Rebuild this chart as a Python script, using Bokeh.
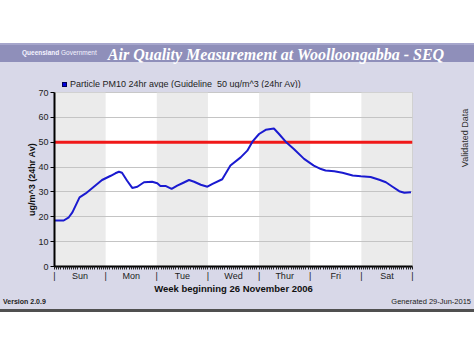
from bokeh.plotting import figure
from bokeh.models import Range1d, FixedTicker, Div
from bokeh.layouts import column, row
from bokeh.embed import file_html
from bokeh.resources import INLINE

# ---------------- data ----------------
day_names = ["Sun", "Mon", "Tue", "Wed", "Thur", "Fri", "Sat"]
t_days = [0.0, 0.18, 0.28, 0.35, 0.49, 0.61, 0.77, 0.93, 1.10, 1.19, 1.26, 1.32,
          1.42, 1.52, 1.62, 1.75, 1.91, 2.01, 2.07, 2.17, 2.29, 2.40, 2.52, 2.63,
          2.73, 2.86, 2.99, 3.09, 3.28, 3.44, 3.64, 3.77, 3.87, 4.00, 4.13, 4.29,
          4.39, 4.52, 4.68, 4.88, 5.07, 5.21, 5.30, 5.47, 5.63, 5.83, 5.99, 6.18,
          6.35, 6.48, 6.61, 6.74, 6.84, 6.97]
pm10 = [18.5, 18.5, 19.8, 21.8, 27.8, 29.4, 32.1, 34.8, 36.5, 37.5, 38.1, 37.7,
        34.5, 31.6, 32.1, 33.9, 34.1, 33.5, 32.4, 32.4, 31.2, 32.5, 33.7, 34.8,
        34.1, 32.9, 32.1, 33.2, 35.1, 40.6, 43.9, 46.6, 50.2, 53.3, 55.0, 55.5,
        53.3, 50.2, 47.3, 43.3, 40.6, 39.2, 38.6, 38.3, 37.7, 36.6, 36.3, 36.0,
        34.9, 33.9, 32.1, 30.3, 29.7, 29.9]
guideline = 50
y_ticks = [0, 10, 20, 30, 40, 50, 60, 70]
shade_left = [0, 2, 4, 6]
shade_right = [1, 3, 5, 7]
n_days = 7
legend_label = "Particle PM10 24hr avge (Guideline&nbsp; 50 ug/m^3 (24hr Av))"

# ---------------- layout constants (page pixels) ----------------
W = 474
BAR_TOP, BAR_BOTTOM = 43, 62
HEADER_BOTTOM = 88
FL, FR, FT, FB = 54, 412, 92, 266
FIG_W = 440
FIG_BOTTOM = 296
PAGE_BOTTOM = 312
PANEL = "#d8d8e8"
BAR = "#8f8fba"
FONT = "Liberation Sans"

# ---------------- header (white space + title bar + legend) ----------------
header_html = f"""
<div style="position:relative;width:{W}px;height:{HEADER_BOTTOM}px;background:white;overflow:hidden;">
  <div style="position:absolute;left:0;top:{BAR_TOP}px;width:{W}px;height:{HEADER_BOTTOM - BAR_TOP}px;background:{PANEL};"></div>
  <div style="position:absolute;left:0;top:{BAR_TOP}px;width:{W}px;height:{BAR_BOTTOM - BAR_TOP}px;background:{BAR};"></div>
  <div style="position:absolute;left:0;top:{BAR_TOP}px;width:{W}px;height:2px;background:#a6a6cc;"></div>
  <span style="position:absolute;left:22px;top:{BAR_TOP + 6}px;font-family:'{FONT}';font-size:6.5px;line-height:8px;color:#f4f4ff;white-space:nowrap;"><b>Queensland</b> Government</span>
  <span style="position:absolute;left:0;width:{W}px;padding-left:78px;box-sizing:border-box;text-align:center;top:{BAR_TOP + 4}px;font-family:'Liberation Serif';font-weight:bold;font-style:italic;font-size:16px;line-height:16px;color:white;white-space:nowrap;">Air Quality Measurement at Woolloongabba - SEQ</span>
  <div style="position:absolute;left:61.5px;top:81.5px;width:5px;height:5px;background:#0000e0;border:1px solid #000050;box-sizing:border-box;"></div>
  <span style="position:absolute;left:70px;top:78px;font-family:'{FONT}';font-size:9px;line-height:12px;color:#222;white-space:nowrap;">{legend_label}</span>
</div>
"""
header = Div(text=header_html, width=W, height=HEADER_BOTTOM, margin=0)

# ---------------- figure ----------------
H = FIG_BOTTOM - HEADER_BOTTOM
p = figure(width=FIG_W, height=H, x_range=Range1d(0, n_days), y_range=Range1d(y_ticks[0], y_ticks[-1]),
           output_backend="svg", toolbar_location=None,
           min_border_left=FL, min_border_right=FIG_W - FR,
           min_border_top=FT - HEADER_BOTTOM, min_border_bottom=FIG_BOTTOM - FB,
           border_fill_color=PANEL, background_fill_color="white",
           outline_line_color="#c8c8c8", outline_line_width=1)

p.quad(left=shade_left, right=shade_right, bottom=y_ticks[0], top=y_ticks[-1],
       fill_color="#ebebeb", line_color=None, level="image")

p.xgrid.visible = False
p.ygrid.grid_line_color = "#c4c4c4"
p.ygrid.grid_line_width = 1

p.line([0, n_days], [guideline, guideline], line_color="#f01818", line_width=3)
p.line(t_days, pm10, line_color="#1a1ad0", line_width=2)

# x axis: "|" at day boundaries, names at day centres
major = []
overrides = {}
for i in range(n_days + 1):
    major.append(i)
    overrides[i] = "|"
for i, nm in enumerate(day_names):
    major.append(i + 0.5)
    overrides[i + 0.5] = nm
minor = [h / 24 for h in range(n_days * 24 + 1)]
p.xaxis.ticker = FixedTicker(ticks=major, minor_ticks=minor)
p.xaxis.major_label_overrides = overrides
p.xaxis.major_tick_out = 0
p.xaxis.major_tick_in = 0
p.xaxis.minor_tick_out = 3
p.xaxis.minor_tick_in = 0
p.xaxis.minor_tick_line_color = "#222222"
p.xaxis.axis_line_width = 2
p.xaxis.axis_line_color = "black"
p.xaxis.major_label_text_font = FONT
p.xaxis.major_label_text_font_size = "9px"
p.xaxis.major_label_text_color = "#222222"
p.xaxis.major_label_standoff = 1
p.xaxis.axis_label = "Week beginning 26 November 2006"
p.xaxis.axis_label_text_font = FONT
p.xaxis.axis_label_text_font_style = "bold"
p.xaxis.axis_label_text_font_size = "9.5px"
p.xaxis.axis_label_text_color = "#111111"
p.xaxis.axis_label_standoff = -1

p.yaxis.ticker = FixedTicker(ticks=y_ticks, minor_ticks=[])
p.yaxis.major_tick_out = 4
p.yaxis.major_tick_in = 0
p.yaxis.major_tick_line_color = "black"
p.yaxis.axis_line_width = 2
p.yaxis.axis_line_color = "black"
p.yaxis.major_label_text_font = FONT
p.yaxis.major_label_text_font_size = "9px"
p.yaxis.major_label_text_color = "#222222"
p.yaxis.major_label_standoff = 2
p.yaxis.axis_label = "ug/m^3 (24hr Av)"
p.yaxis.axis_label_text_font = FONT
p.yaxis.axis_label_text_font_style = "bold"
p.yaxis.axis_label_text_font_size = "9px"
p.yaxis.axis_label_text_color = "#111111"
p.yaxis.axis_label_standoff = -2

# ---------------- right-hand strip with the rotated note ----------------
side_w = W - FIG_W
side_html = f"""
<div style="position:relative;width:{side_w + 2}px;height:{H}px;margin-left:-2px;background:{PANEL};overflow:hidden;">
  <span style="position:absolute;left:{465 - FIG_W + 2}px;top:{138 - HEADER_BOTTOM}px;transform:translate(-50%,-50%) rotate(-90deg);font-family:'{FONT}';font-size:9px;line-height:10px;color:#333;white-space:nowrap;">Validated Data</span>
</div>
"""
side = Div(text=side_html, width=side_w, height=H, margin=0,
           styles={"background-color": PANEL})

# ---------------- footer ----------------
footer_html = f"""
<div style="position:relative;width:{W}px;height:{PAGE_BOTTOM - FIG_BOTTOM}px;background:{PANEL};border-bottom:3px solid #505050;box-sizing:border-box;">
  <span style="position:absolute;left:3px;top:1px;font-family:'{FONT}';font-weight:bold;font-size:7px;line-height:10px;color:#222;white-space:nowrap;">Version 2.0.9</span>
  <span style="position:absolute;right:3px;top:1px;font-family:'{FONT}';font-size:7.5px;line-height:10px;color:#222;white-space:nowrap;">Generated 29-Jun-2015</span>
</div>
"""
footer = Div(text=footer_html, width=W, height=PAGE_BOTTOM - FIG_BOTTOM, margin=0)

middle = row(p, side, spacing=0, styles={"background-color": PANEL})
page = column(header, middle, footer, spacing=0)

open("out.html", "w").write(file_html(page, INLINE))
